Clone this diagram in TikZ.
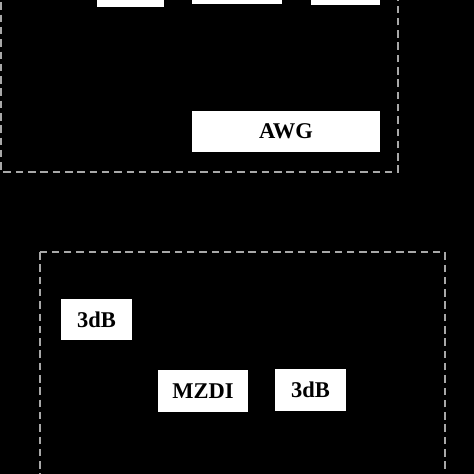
\documentclass[tikz,border=0pt]{standalone}
\usepackage{fontspec}
\setmainfont{Liberation Serif}
\definecolor{dashgray}{HTML}{A8A8A8}
\begin{document}
\begin{tikzpicture}[x=1pt,y=1pt,
  blk/.style={fill=white, draw=none, text=black, inner sep=0pt, font=\bfseries\fontsize{22.5}{26}\selectfont},
  grp/.style={draw=dashgray, line width=1.6pt, dash pattern=on 7.5pt off 4.8pt}]
\fill[black] (0,0) rectangle (474,-474);
\useasboundingbox (0,0) rectangle (474,-474);
\clip (0,0) rectangle (474,-474);
% group frames
\draw[grp] (1,10) rectangle (398,-172);
\draw[grp] (40,-252) rectangle (445,-490);
% top blocks (cut by the edge)
\node[blk, minimum width=67pt, minimum height=40pt] (t1) at (130.5,13) {};
\node[blk, minimum width=90pt, minimum height=40pt] (t2) at (237,16) {};
\node[blk, minimum width=69pt, minimum height=40pt] (t3) at (345.5,15) {};
% labelled blocks
\node[blk, minimum width=188pt, minimum height=41pt] (awg) at (286,-131.5) {AWG};
\node[blk, minimum width=71pt, minimum height=41pt] (c1) at (96.5,-319.5) {3dB};
\node[blk, minimum width=90pt, minimum height=42pt] (mzdi) at (203,-391) {MZDI};
\node[blk, minimum width=71pt, minimum height=42pt] (c2) at (310.5,-390) {3dB};
\end{tikzpicture}
\end{document}
